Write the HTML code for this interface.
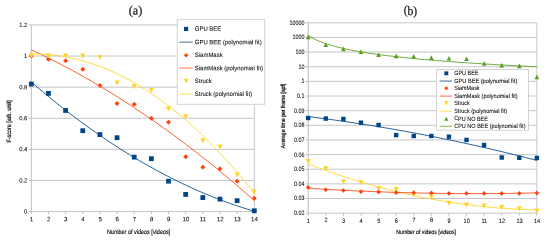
<!DOCTYPE html>
<html><head><meta charset="utf-8"><title>Figure</title>
<style>html,body{margin:0;padding:0;background:#fff}body{width:550px;height:240px;overflow:hidden}</style></head>
<body>
<svg width="550" height="240" viewBox="0 0 550 240" style="display:block">
<rect width="550" height="240" fill="#fff"/>
<text x="128.7" y="14.5" transform="rotate(0.03 128.7 14.5)" font-family="'Liberation Serif',serif" font-size="12.7" textLength="13.5" lengthAdjust="spacingAndGlyphs" fill="#111" stroke="#111" stroke-width="0.2">(a)</text>
<text x="403.7" y="14.5" transform="rotate(0.03 403.7 14.5)" font-family="'Liberation Serif',serif" font-size="12.7" textLength="13.5" lengthAdjust="spacingAndGlyphs" fill="#111" stroke="#111" stroke-width="0.2">(b)</text>
<line x1="31.3" x2="254.3" y1="211.55" y2="211.55" stroke="#c6c6c6" stroke-width="1"/>
<line x1="28.8" x2="31.3" y1="211.55" y2="211.55" stroke="#bdbdbd" stroke-width="1"/>
<text x="24.07" y="213.55" transform="rotate(0.03 24.07 213.55)" font-family="'Liberation Sans',sans-serif" font-size="6.2" fill="#000" stroke="#000" stroke-width="0.05" textLength="3.23" lengthAdjust="spacingAndGlyphs">0</text>
<line x1="31.3" x2="254.3" y1="180.45" y2="180.45" stroke="#c6c6c6" stroke-width="1"/>
<line x1="28.8" x2="31.3" y1="180.45" y2="180.45" stroke="#bdbdbd" stroke-width="1"/>
<text x="19.24" y="182.45" transform="rotate(0.03 19.24 182.45)" font-family="'Liberation Sans',sans-serif" font-size="6.2" fill="#000" stroke="#000" stroke-width="0.05" textLength="8.06" lengthAdjust="spacingAndGlyphs">0.2</text>
<line x1="31.3" x2="254.3" y1="149.35" y2="149.35" stroke="#c6c6c6" stroke-width="1"/>
<line x1="28.8" x2="31.3" y1="149.35" y2="149.35" stroke="#bdbdbd" stroke-width="1"/>
<text x="19.24" y="151.35" transform="rotate(0.03 19.24 151.35)" font-family="'Liberation Sans',sans-serif" font-size="6.2" fill="#000" stroke="#000" stroke-width="0.05" textLength="8.06" lengthAdjust="spacingAndGlyphs">0.4</text>
<line x1="31.3" x2="254.3" y1="118.25" y2="118.25" stroke="#c6c6c6" stroke-width="1"/>
<line x1="28.8" x2="31.3" y1="118.25" y2="118.25" stroke="#bdbdbd" stroke-width="1"/>
<text x="19.24" y="120.25" transform="rotate(0.03 19.24 120.25)" font-family="'Liberation Sans',sans-serif" font-size="6.2" fill="#000" stroke="#000" stroke-width="0.05" textLength="8.06" lengthAdjust="spacingAndGlyphs">0.6</text>
<line x1="31.3" x2="254.3" y1="87.15" y2="87.15" stroke="#c6c6c6" stroke-width="1"/>
<line x1="28.8" x2="31.3" y1="87.15" y2="87.15" stroke="#bdbdbd" stroke-width="1"/>
<text x="19.24" y="89.15" transform="rotate(0.03 19.24 89.15)" font-family="'Liberation Sans',sans-serif" font-size="6.2" fill="#000" stroke="#000" stroke-width="0.05" textLength="8.06" lengthAdjust="spacingAndGlyphs">0.8</text>
<line x1="31.3" x2="254.3" y1="56.05" y2="56.05" stroke="#c6c6c6" stroke-width="1"/>
<line x1="28.8" x2="31.3" y1="56.05" y2="56.05" stroke="#bdbdbd" stroke-width="1"/>
<text x="24.07" y="58.05" transform="rotate(0.03 24.07 58.05)" font-family="'Liberation Sans',sans-serif" font-size="6.2" fill="#000" stroke="#000" stroke-width="0.05" textLength="3.23" lengthAdjust="spacingAndGlyphs">1</text>
<line x1="31.3" x2="254.3" y1="24.95" y2="24.95" stroke="#c6c6c6" stroke-width="1"/>
<line x1="28.8" x2="31.3" y1="24.95" y2="24.95" stroke="#bdbdbd" stroke-width="1"/>
<text x="19.24" y="26.95" transform="rotate(0.03 19.24 26.95)" font-family="'Liberation Sans',sans-serif" font-size="6.2" fill="#000" stroke="#000" stroke-width="0.05" textLength="8.06" lengthAdjust="spacingAndGlyphs">1.2</text>
<line x1="31.3" x2="31.3" y1="24.95" y2="211.55" stroke="#bdbdbd" stroke-width="1"/>
<line x1="254.3" x2="254.3" y1="24.95" y2="211.55" stroke="#c6c6c6" stroke-width="1"/>
<line x1="31.30" x2="31.30" y1="211.55" y2="214.05" stroke="#bdbdbd" stroke-width="1"/>
<text x="29.80" y="221.25" transform="rotate(0.03 29.80 221.25)" font-family="'Liberation Sans',sans-serif" font-size="6.3" fill="#000" stroke="#000" stroke-width="0.05" textLength="3.39" lengthAdjust="spacingAndGlyphs">1</text>
<line x1="48.45" x2="48.45" y1="211.55" y2="214.05" stroke="#bdbdbd" stroke-width="1"/>
<text x="46.96" y="221.25" transform="rotate(0.03 46.96 221.25)" font-family="'Liberation Sans',sans-serif" font-size="6.3" fill="#000" stroke="#000" stroke-width="0.05" textLength="3.39" lengthAdjust="spacingAndGlyphs">2</text>
<line x1="65.61" x2="65.61" y1="211.55" y2="214.05" stroke="#bdbdbd" stroke-width="1"/>
<text x="64.11" y="221.25" transform="rotate(0.03 64.11 221.25)" font-family="'Liberation Sans',sans-serif" font-size="6.3" fill="#000" stroke="#000" stroke-width="0.05" textLength="3.39" lengthAdjust="spacingAndGlyphs">3</text>
<line x1="82.76" x2="82.76" y1="211.55" y2="214.05" stroke="#bdbdbd" stroke-width="1"/>
<text x="81.27" y="221.25" transform="rotate(0.03 81.27 221.25)" font-family="'Liberation Sans',sans-serif" font-size="6.3" fill="#000" stroke="#000" stroke-width="0.05" textLength="3.39" lengthAdjust="spacingAndGlyphs">4</text>
<line x1="99.92" x2="99.92" y1="211.55" y2="214.05" stroke="#bdbdbd" stroke-width="1"/>
<text x="98.42" y="221.25" transform="rotate(0.03 98.42 221.25)" font-family="'Liberation Sans',sans-serif" font-size="6.3" fill="#000" stroke="#000" stroke-width="0.05" textLength="3.39" lengthAdjust="spacingAndGlyphs">5</text>
<line x1="117.07" x2="117.07" y1="211.55" y2="214.05" stroke="#bdbdbd" stroke-width="1"/>
<text x="115.57" y="221.25" transform="rotate(0.03 115.57 221.25)" font-family="'Liberation Sans',sans-serif" font-size="6.3" fill="#000" stroke="#000" stroke-width="0.05" textLength="3.39" lengthAdjust="spacingAndGlyphs">6</text>
<line x1="134.22" x2="134.22" y1="211.55" y2="214.05" stroke="#bdbdbd" stroke-width="1"/>
<text x="132.73" y="221.25" transform="rotate(0.03 132.73 221.25)" font-family="'Liberation Sans',sans-serif" font-size="6.3" fill="#000" stroke="#000" stroke-width="0.05" textLength="3.39" lengthAdjust="spacingAndGlyphs">7</text>
<line x1="151.38" x2="151.38" y1="211.55" y2="214.05" stroke="#bdbdbd" stroke-width="1"/>
<text x="149.88" y="221.25" transform="rotate(0.03 149.88 221.25)" font-family="'Liberation Sans',sans-serif" font-size="6.3" fill="#000" stroke="#000" stroke-width="0.05" textLength="3.39" lengthAdjust="spacingAndGlyphs">8</text>
<line x1="168.53" x2="168.53" y1="211.55" y2="214.05" stroke="#bdbdbd" stroke-width="1"/>
<text x="167.03" y="221.25" transform="rotate(0.03 167.03 221.25)" font-family="'Liberation Sans',sans-serif" font-size="6.3" fill="#000" stroke="#000" stroke-width="0.05" textLength="3.39" lengthAdjust="spacingAndGlyphs">9</text>
<line x1="185.68" x2="185.68" y1="211.55" y2="214.05" stroke="#bdbdbd" stroke-width="1"/>
<text x="182.49" y="221.25" transform="rotate(0.03 182.49 221.25)" font-family="'Liberation Sans',sans-serif" font-size="6.3" fill="#000" stroke="#000" stroke-width="0.05" textLength="6.79" lengthAdjust="spacingAndGlyphs">10</text>
<line x1="202.84" x2="202.84" y1="211.55" y2="214.05" stroke="#bdbdbd" stroke-width="1"/>
<text x="199.87" y="221.25" transform="rotate(0.03 199.87 221.25)" font-family="'Liberation Sans',sans-serif" font-size="6.3" fill="#000" stroke="#000" stroke-width="0.05" textLength="6.33" lengthAdjust="spacingAndGlyphs">11</text>
<line x1="219.99" x2="219.99" y1="211.55" y2="214.05" stroke="#bdbdbd" stroke-width="1"/>
<text x="216.80" y="221.25" transform="rotate(0.03 216.80 221.25)" font-family="'Liberation Sans',sans-serif" font-size="6.3" fill="#000" stroke="#000" stroke-width="0.05" textLength="6.79" lengthAdjust="spacingAndGlyphs">12</text>
<line x1="237.15" x2="237.15" y1="211.55" y2="214.05" stroke="#bdbdbd" stroke-width="1"/>
<text x="233.95" y="221.25" transform="rotate(0.03 233.95 221.25)" font-family="'Liberation Sans',sans-serif" font-size="6.3" fill="#000" stroke="#000" stroke-width="0.05" textLength="6.79" lengthAdjust="spacingAndGlyphs">13</text>
<line x1="254.30" x2="254.30" y1="211.55" y2="214.05" stroke="#bdbdbd" stroke-width="1"/>
<text x="251.11" y="221.25" transform="rotate(0.03 251.11 221.25)" font-family="'Liberation Sans',sans-serif" font-size="6.3" fill="#000" stroke="#000" stroke-width="0.05" textLength="6.79" lengthAdjust="spacingAndGlyphs">14</text>
<text x="106.90" y="233.60" transform="rotate(0.03 106.90 233.60)" font-family="'Liberation Sans',sans-serif" font-size="6.3" fill="#000" stroke="#000" stroke-width="0.14" textLength="63.36" lengthAdjust="spacingAndGlyphs">Number of videos [videos]</text>
<text transform="translate(10.60,121.45) rotate(-89.97)" x="-21.12" y="0" font-family="'Liberation Sans',sans-serif" font-size="6.3" fill="#000" stroke="#000" stroke-width="0.18" textLength="42.24" lengthAdjust="spacingAndGlyphs">F-score [arb. unit]</text>
<polyline points="31.30,81.99 35.08,85.24 38.86,88.46 42.64,91.64 46.42,94.79 50.20,97.90 53.98,100.97 57.76,104.01 61.54,107.00 65.32,109.97 69.10,112.89 72.88,115.78 76.66,118.63 80.44,121.45 84.22,124.23 87.99,126.97 91.77,129.67 95.55,132.34 99.33,134.97 103.11,137.57 106.89,140.13 110.67,142.65 114.45,145.13 118.23,147.58 122.01,149.99 125.79,152.37 129.57,154.71 133.35,157.01 137.13,159.27 140.91,161.50 144.69,163.69 148.47,165.85 152.25,167.97 156.03,170.05 159.81,172.09 163.59,174.10 167.37,176.07 171.15,178.00 174.93,179.90 178.71,181.76 182.49,183.59 186.27,185.37 190.05,187.13 193.83,188.84 197.61,190.52 201.38,192.16 205.16,193.76 208.94,195.33 212.72,196.86 216.50,198.35 220.28,199.81 224.06,201.23 227.84,202.61 231.62,203.96 235.40,205.27 239.18,206.55 242.96,207.78 246.74,208.98 250.52,210.15 254.30,211.27" fill="none" stroke="#004586" stroke-width="0.85"/>
<polyline points="31.30,49.79 35.08,51.56 38.86,53.36 42.64,55.19 46.42,57.04 50.20,58.92 53.98,60.83 57.76,62.77 61.54,64.73 65.32,66.72 69.10,68.73 72.88,70.78 76.66,72.85 80.44,74.94 84.22,77.07 87.99,79.22 91.77,81.40 95.55,83.60 99.33,85.83 103.11,88.09 106.89,90.38 110.67,92.69 114.45,95.03 118.23,97.40 122.01,99.79 125.79,102.21 129.57,104.66 133.35,107.13 137.13,109.64 140.91,112.16 144.69,114.72 148.47,117.30 152.25,119.91 156.03,122.55 159.81,125.21 163.59,127.90 167.37,130.62 171.15,133.36 174.93,136.13 178.71,138.93 182.49,141.76 186.27,144.61 190.05,147.49 193.83,150.39 197.61,153.33 201.38,156.29 205.16,159.27 208.94,162.29 212.72,165.33 216.50,168.39 220.28,171.49 224.06,174.61 227.84,177.76 231.62,180.93 235.40,184.14 239.18,187.37 242.96,190.62 246.74,193.91 250.52,197.22 254.30,200.55" fill="none" stroke="#ff420e" stroke-width="0.85"/>
<polyline points="31.30,53.96 35.08,53.95 38.86,54.01 42.64,54.16 46.42,54.40 50.20,54.71 53.98,55.10 57.76,55.58 61.54,56.14 65.32,56.78 69.10,57.50 72.88,58.30 76.66,59.19 80.44,60.15 84.22,61.20 87.99,62.33 91.77,63.54 95.55,64.84 99.33,66.21 103.11,67.67 106.89,69.21 110.67,70.83 114.45,72.53 118.23,74.32 122.01,76.18 125.79,78.13 129.57,80.16 133.35,82.27 137.13,84.47 140.91,86.74 144.69,89.10 148.47,91.54 152.25,94.06 156.03,96.66 159.81,99.34 163.59,102.11 167.37,104.95 171.15,107.88 174.93,110.89 178.71,113.98 182.49,117.16 186.27,120.41 190.05,123.75 193.83,127.17 197.61,130.67 201.38,134.25 205.16,137.92 208.94,141.67 212.72,145.49 216.50,149.40 220.28,153.39 224.06,157.47 227.84,161.62 231.62,165.86 235.40,170.18 239.18,174.58 242.96,179.06 246.74,183.62 250.52,188.27 254.30,193.00" fill="none" stroke="#ffd320" stroke-width="0.85"/>
<rect x="28.90" y="81.64" width="4.8" height="4.8" fill="#004586"/>
<rect x="46.05" y="90.97" width="4.8" height="4.8" fill="#004586"/>
<rect x="63.21" y="108.07" width="4.8" height="4.8" fill="#004586"/>
<rect x="80.36" y="128.29" width="4.8" height="4.8" fill="#004586"/>
<rect x="97.52" y="132.18" width="4.8" height="4.8" fill="#004586"/>
<rect x="114.67" y="135.29" width="4.8" height="4.8" fill="#004586"/>
<rect x="131.82" y="154.72" width="4.8" height="4.8" fill="#004586"/>
<rect x="148.98" y="156.28" width="4.8" height="4.8" fill="#004586"/>
<rect x="166.13" y="178.83" width="4.8" height="4.8" fill="#004586"/>
<rect x="183.28" y="192.04" width="4.8" height="4.8" fill="#004586"/>
<rect x="200.44" y="195.16" width="4.8" height="4.8" fill="#004586"/>
<rect x="217.59" y="196.71" width="4.8" height="4.8" fill="#004586"/>
<rect x="234.75" y="198.27" width="4.8" height="4.8" fill="#004586"/>
<rect x="251.90" y="208.37" width="4.8" height="4.8" fill="#004586"/>
<path d="M31.30 53.55L33.80 56.05L31.30 58.55L28.80 56.05Z" fill="#ff420e"/>
<path d="M48.45 56.66L50.95 59.16L48.45 61.66L45.95 59.16Z" fill="#ff420e"/>
<path d="M65.61 58.22L68.11 60.72L65.61 63.22L63.11 60.72Z" fill="#ff420e"/>
<path d="M82.76 66.77L85.26 69.27L82.76 71.77L80.26 69.27Z" fill="#ff420e"/>
<path d="M99.92 83.09L102.42 85.59L99.92 88.09L97.42 85.59Z" fill="#ff420e"/>
<path d="M117.07 100.98L119.57 103.48L117.07 105.98L114.57 103.48Z" fill="#ff420e"/>
<path d="M134.22 101.76L136.72 104.26L134.22 106.76L131.72 104.26Z" fill="#ff420e"/>
<path d="M151.38 115.75L153.88 118.25L151.38 120.75L148.88 118.25Z" fill="#ff420e"/>
<path d="M168.53 119.64L171.03 122.14L168.53 124.64L166.03 122.14Z" fill="#ff420e"/>
<path d="M185.68 154.31L188.18 156.81L185.68 159.31L183.18 156.81Z" fill="#ff420e"/>
<path d="M202.84 164.73L205.34 167.23L202.84 169.73L200.34 167.23Z" fill="#ff420e"/>
<path d="M219.99 166.29L222.49 168.79L219.99 171.29L217.49 168.79Z" fill="#ff420e"/>
<path d="M237.15 178.73L239.65 181.23L237.15 183.73L234.65 181.23Z" fill="#ff420e"/>
<path d="M254.30 195.83L256.80 198.33L254.30 200.83L251.80 198.33Z" fill="#ff420e"/>
<path d="M28.80 53.55L33.80 53.55L31.30 58.55Z" fill="#ffd320"/>
<path d="M45.95 53.55L50.95 53.55L48.45 58.55Z" fill="#ffd320"/>
<path d="M63.11 53.55L68.11 53.55L65.61 58.55Z" fill="#ffd320"/>
<path d="M80.26 53.55L85.26 53.55L82.76 58.55Z" fill="#ffd320"/>
<path d="M97.42 55.10L102.42 55.10L99.92 60.10Z" fill="#ffd320"/>
<path d="M114.57 80.45L119.57 80.45L117.07 85.45Z" fill="#ffd320"/>
<path d="M131.72 84.18L136.72 84.18L134.22 89.18Z" fill="#ffd320"/>
<path d="M148.88 87.76L153.88 87.76L151.38 92.76Z" fill="#ffd320"/>
<path d="M166.03 106.42L171.03 106.42L168.53 111.42Z" fill="#ffd320"/>
<path d="M183.18 114.20L188.18 114.20L185.68 119.20Z" fill="#ffd320"/>
<path d="M200.34 138.30L205.34 138.30L202.84 143.30Z" fill="#ffd320"/>
<path d="M217.49 144.52L222.49 144.52L219.99 149.52Z" fill="#ffd320"/>
<path d="M234.65 172.51L239.65 172.51L237.15 177.51Z" fill="#ffd320"/>
<path d="M251.80 189.61L256.80 189.61L254.30 194.61Z" fill="#ffd320"/>
<rect x="177.2" y="19.7" width="87.5" height="84.6" fill="#fff" stroke="#cdcdcd" stroke-width="0.9"/>
<rect x="184.00" y="26.85" width="4.2" height="4.2" fill="#004586"/>
<text x="194.80" y="30.85" transform="rotate(0.03 194.80 30.85)" font-family="'Liberation Sans',sans-serif" font-size="6.3" fill="#000" stroke="#000" stroke-width="0.05" textLength="26.50" lengthAdjust="spacingAndGlyphs">GPU BEE</text>
<line x1="179.2" x2="192.8" y1="42.15" y2="42.15" stroke="#004586" stroke-width="1.2" stroke-opacity="0.62"/>
<text x="194.80" y="44.20" transform="rotate(0.03 194.80 44.20)" font-family="'Liberation Sans',sans-serif" font-size="6.3" fill="#000" stroke="#000" stroke-width="0.05" textLength="66.91" lengthAdjust="spacingAndGlyphs">GPU BEE (polynomial fit)</text>
<path d="M186.10 52.90L188.35 55.15L186.10 57.40L183.85 55.15Z" fill="#ff420e"/>
<text x="194.80" y="57.05" transform="rotate(0.03 194.80 57.05)" font-family="'Liberation Sans',sans-serif" font-size="6.3" fill="#000" stroke="#000" stroke-width="0.05" textLength="27.82" lengthAdjust="spacingAndGlyphs">SiamMask</text>
<line x1="179.2" x2="192.8" y1="68.10" y2="68.10" stroke="#ff420e" stroke-width="1.2" stroke-opacity="0.62"/>
<text x="194.80" y="70.15" transform="rotate(0.03 194.80 70.15)" font-family="'Liberation Sans',sans-serif" font-size="6.3" fill="#000" stroke="#000" stroke-width="0.05" textLength="68.23" lengthAdjust="spacingAndGlyphs">SiamMask (polynomial fit)</text>
<path d="M183.75 78.80L188.45 78.80L186.10 83.50Z" fill="#ffd320"/>
<text x="194.80" y="83.05" transform="rotate(0.03 194.80 83.05)" font-family="'Liberation Sans',sans-serif" font-size="6.3" fill="#000" stroke="#000" stroke-width="0.05" textLength="16.89" lengthAdjust="spacingAndGlyphs">Struck</text>
<line x1="179.2" x2="192.8" y1="94.05" y2="94.05" stroke="#ffd320" stroke-width="1.2" stroke-opacity="0.62"/>
<text x="194.80" y="96.10" transform="rotate(0.03 194.80 96.10)" font-family="'Liberation Sans',sans-serif" font-size="6.3" fill="#000" stroke="#000" stroke-width="0.05" textLength="57.30" lengthAdjust="spacingAndGlyphs">Struck (polynomial fit)</text>
<line x1="308.2" x2="536.9" y1="213.15" y2="213.15" stroke="#c6c6c6" stroke-width="1"/>
<line x1="305.7" x2="308.2" y1="213.15" y2="213.15" stroke="#bdbdbd" stroke-width="1"/>
<text x="293.89" y="215.10" transform="rotate(0.03 293.89 215.10)" font-family="'Liberation Sans',sans-serif" font-size="6.4" fill="#000" stroke="#000" stroke-width="0.05" textLength="10.51" lengthAdjust="spacingAndGlyphs">0.02</text>
<line x1="308.2" x2="536.9" y1="198.51" y2="198.51" stroke="#c6c6c6" stroke-width="1"/>
<line x1="305.7" x2="308.2" y1="198.51" y2="198.51" stroke="#bdbdbd" stroke-width="1"/>
<text x="293.89" y="200.46" transform="rotate(0.03 293.89 200.46)" font-family="'Liberation Sans',sans-serif" font-size="6.4" fill="#000" stroke="#000" stroke-width="0.05" textLength="10.51" lengthAdjust="spacingAndGlyphs">0.03</text>
<line x1="308.2" x2="536.9" y1="183.87" y2="183.87" stroke="#c6c6c6" stroke-width="1"/>
<line x1="305.7" x2="308.2" y1="183.87" y2="183.87" stroke="#bdbdbd" stroke-width="1"/>
<text x="293.89" y="185.82" transform="rotate(0.03 293.89 185.82)" font-family="'Liberation Sans',sans-serif" font-size="6.4" fill="#000" stroke="#000" stroke-width="0.05" textLength="10.51" lengthAdjust="spacingAndGlyphs">0.04</text>
<line x1="308.2" x2="536.9" y1="169.22" y2="169.22" stroke="#c6c6c6" stroke-width="1"/>
<line x1="305.7" x2="308.2" y1="169.22" y2="169.22" stroke="#bdbdbd" stroke-width="1"/>
<text x="293.89" y="171.17" transform="rotate(0.03 293.89 171.17)" font-family="'Liberation Sans',sans-serif" font-size="6.4" fill="#000" stroke="#000" stroke-width="0.05" textLength="10.51" lengthAdjust="spacingAndGlyphs">0.05</text>
<line x1="308.2" x2="536.9" y1="154.58" y2="154.58" stroke="#c6c6c6" stroke-width="1"/>
<line x1="305.7" x2="308.2" y1="154.58" y2="154.58" stroke="#bdbdbd" stroke-width="1"/>
<text x="293.89" y="156.53" transform="rotate(0.03 293.89 156.53)" font-family="'Liberation Sans',sans-serif" font-size="6.4" fill="#000" stroke="#000" stroke-width="0.05" textLength="10.51" lengthAdjust="spacingAndGlyphs">0.06</text>
<line x1="308.2" x2="536.9" y1="139.94" y2="139.94" stroke="#c6c6c6" stroke-width="1"/>
<line x1="305.7" x2="308.2" y1="139.94" y2="139.94" stroke="#bdbdbd" stroke-width="1"/>
<text x="293.89" y="141.89" transform="rotate(0.03 293.89 141.89)" font-family="'Liberation Sans',sans-serif" font-size="6.4" fill="#000" stroke="#000" stroke-width="0.05" textLength="10.51" lengthAdjust="spacingAndGlyphs">0.07</text>
<line x1="308.2" x2="536.9" y1="125.30" y2="125.30" stroke="#c6c6c6" stroke-width="1"/>
<line x1="305.7" x2="308.2" y1="125.30" y2="125.30" stroke="#bdbdbd" stroke-width="1"/>
<text x="293.89" y="127.25" transform="rotate(0.03 293.89 127.25)" font-family="'Liberation Sans',sans-serif" font-size="6.4" fill="#000" stroke="#000" stroke-width="0.05" textLength="10.51" lengthAdjust="spacingAndGlyphs">0.08</text>
<line x1="308.2" x2="536.9" y1="110.65" y2="110.65" stroke="#c6c6c6" stroke-width="1"/>
<line x1="305.7" x2="308.2" y1="110.65" y2="110.65" stroke="#bdbdbd" stroke-width="1"/>
<text x="293.89" y="112.60" transform="rotate(0.03 293.89 112.60)" font-family="'Liberation Sans',sans-serif" font-size="6.4" fill="#000" stroke="#000" stroke-width="0.05" textLength="10.51" lengthAdjust="spacingAndGlyphs">0.09</text>
<line x1="308.2" x2="536.9" y1="96.01" y2="96.01" stroke="#c6c6c6" stroke-width="1"/>
<line x1="305.7" x2="308.2" y1="96.01" y2="96.01" stroke="#bdbdbd" stroke-width="1"/>
<text x="296.89" y="97.96" transform="rotate(0.03 296.89 97.96)" font-family="'Liberation Sans',sans-serif" font-size="6.4" fill="#000" stroke="#000" stroke-width="0.05" textLength="7.51" lengthAdjust="spacingAndGlyphs">0.1</text>
<line x1="308.2" x2="536.9" y1="81.37" y2="81.37" stroke="#c6c6c6" stroke-width="1"/>
<line x1="305.7" x2="308.2" y1="81.37" y2="81.37" stroke="#bdbdbd" stroke-width="1"/>
<text x="301.40" y="83.32" transform="rotate(0.03 301.40 83.32)" font-family="'Liberation Sans',sans-serif" font-size="6.4" fill="#000" stroke="#000" stroke-width="0.05" textLength="3.00" lengthAdjust="spacingAndGlyphs">1</text>
<line x1="308.2" x2="536.9" y1="66.73" y2="66.73" stroke="#c6c6c6" stroke-width="1"/>
<line x1="305.7" x2="308.2" y1="66.73" y2="66.73" stroke="#bdbdbd" stroke-width="1"/>
<text x="298.39" y="68.68" transform="rotate(0.03 298.39 68.68)" font-family="'Liberation Sans',sans-serif" font-size="6.4" fill="#000" stroke="#000" stroke-width="0.05" textLength="6.01" lengthAdjust="spacingAndGlyphs">10</text>
<line x1="308.2" x2="536.9" y1="52.08" y2="52.08" stroke="#c6c6c6" stroke-width="1"/>
<line x1="305.7" x2="308.2" y1="52.08" y2="52.08" stroke="#bdbdbd" stroke-width="1"/>
<text x="295.39" y="54.03" transform="rotate(0.03 295.39 54.03)" font-family="'Liberation Sans',sans-serif" font-size="6.4" fill="#000" stroke="#000" stroke-width="0.05" textLength="9.01" lengthAdjust="spacingAndGlyphs">100</text>
<line x1="308.2" x2="536.9" y1="37.44" y2="37.44" stroke="#c6c6c6" stroke-width="1"/>
<line x1="305.7" x2="308.2" y1="37.44" y2="37.44" stroke="#bdbdbd" stroke-width="1"/>
<text x="292.39" y="39.39" transform="rotate(0.03 292.39 39.39)" font-family="'Liberation Sans',sans-serif" font-size="6.4" fill="#000" stroke="#000" stroke-width="0.05" textLength="12.01" lengthAdjust="spacingAndGlyphs">1000</text>
<line x1="308.2" x2="536.9" y1="22.80" y2="22.80" stroke="#c6c6c6" stroke-width="1"/>
<line x1="305.7" x2="308.2" y1="22.80" y2="22.80" stroke="#bdbdbd" stroke-width="1"/>
<text x="289.38" y="24.75" transform="rotate(0.03 289.38 24.75)" font-family="'Liberation Sans',sans-serif" font-size="6.4" fill="#000" stroke="#000" stroke-width="0.05" textLength="15.02" lengthAdjust="spacingAndGlyphs">10000</text>
<line x1="308.2" x2="308.2" y1="22.8" y2="213.15" stroke="#bdbdbd" stroke-width="1"/>
<line x1="536.9" x2="536.9" y1="22.8" y2="213.15" stroke="#c6c6c6" stroke-width="1"/>
<line x1="308.20" x2="308.20" y1="213.15" y2="215.65" stroke="#bdbdbd" stroke-width="1"/>
<text x="306.84" y="222.50" transform="rotate(0.03 306.84 222.50)" font-family="'Liberation Sans',sans-serif" font-size="6.3" fill="#000" stroke="#000" stroke-width="0.05" textLength="3.11" lengthAdjust="spacingAndGlyphs">1</text>
<line x1="325.79" x2="325.79" y1="213.15" y2="215.65" stroke="#bdbdbd" stroke-width="1"/>
<text x="324.44" y="222.50" transform="rotate(0.03 324.44 222.50)" font-family="'Liberation Sans',sans-serif" font-size="6.3" fill="#000" stroke="#000" stroke-width="0.05" textLength="3.11" lengthAdjust="spacingAndGlyphs">2</text>
<line x1="343.38" x2="343.38" y1="213.15" y2="215.65" stroke="#bdbdbd" stroke-width="1"/>
<text x="342.03" y="222.50" transform="rotate(0.03 342.03 222.50)" font-family="'Liberation Sans',sans-serif" font-size="6.3" fill="#000" stroke="#000" stroke-width="0.05" textLength="3.11" lengthAdjust="spacingAndGlyphs">3</text>
<line x1="360.98" x2="360.98" y1="213.15" y2="215.65" stroke="#bdbdbd" stroke-width="1"/>
<text x="359.62" y="222.50" transform="rotate(0.03 359.62 222.50)" font-family="'Liberation Sans',sans-serif" font-size="6.3" fill="#000" stroke="#000" stroke-width="0.05" textLength="3.11" lengthAdjust="spacingAndGlyphs">4</text>
<line x1="378.57" x2="378.57" y1="213.15" y2="215.65" stroke="#bdbdbd" stroke-width="1"/>
<text x="377.21" y="222.50" transform="rotate(0.03 377.21 222.50)" font-family="'Liberation Sans',sans-serif" font-size="6.3" fill="#000" stroke="#000" stroke-width="0.05" textLength="3.11" lengthAdjust="spacingAndGlyphs">5</text>
<line x1="396.16" x2="396.16" y1="213.15" y2="215.65" stroke="#bdbdbd" stroke-width="1"/>
<text x="394.80" y="222.50" transform="rotate(0.03 394.80 222.50)" font-family="'Liberation Sans',sans-serif" font-size="6.3" fill="#000" stroke="#000" stroke-width="0.05" textLength="3.11" lengthAdjust="spacingAndGlyphs">6</text>
<line x1="413.75" x2="413.75" y1="213.15" y2="215.65" stroke="#bdbdbd" stroke-width="1"/>
<text x="412.40" y="222.50" transform="rotate(0.03 412.40 222.50)" font-family="'Liberation Sans',sans-serif" font-size="6.3" fill="#000" stroke="#000" stroke-width="0.05" textLength="3.11" lengthAdjust="spacingAndGlyphs">7</text>
<line x1="431.35" x2="431.35" y1="213.15" y2="215.65" stroke="#bdbdbd" stroke-width="1"/>
<text x="429.99" y="222.50" transform="rotate(0.03 429.99 222.50)" font-family="'Liberation Sans',sans-serif" font-size="6.3" fill="#000" stroke="#000" stroke-width="0.05" textLength="3.11" lengthAdjust="spacingAndGlyphs">8</text>
<line x1="448.94" x2="448.94" y1="213.15" y2="215.65" stroke="#bdbdbd" stroke-width="1"/>
<text x="447.58" y="222.50" transform="rotate(0.03 447.58 222.50)" font-family="'Liberation Sans',sans-serif" font-size="6.3" fill="#000" stroke="#000" stroke-width="0.05" textLength="3.11" lengthAdjust="spacingAndGlyphs">9</text>
<line x1="466.53" x2="466.53" y1="213.15" y2="215.65" stroke="#bdbdbd" stroke-width="1"/>
<text x="463.62" y="222.50" transform="rotate(0.03 463.62 222.50)" font-family="'Liberation Sans',sans-serif" font-size="6.3" fill="#000" stroke="#000" stroke-width="0.05" textLength="6.23" lengthAdjust="spacingAndGlyphs">10</text>
<line x1="484.12" x2="484.12" y1="213.15" y2="215.65" stroke="#bdbdbd" stroke-width="1"/>
<text x="481.42" y="222.50" transform="rotate(0.03 481.42 222.50)" font-family="'Liberation Sans',sans-serif" font-size="6.3" fill="#000" stroke="#000" stroke-width="0.05" textLength="5.81" lengthAdjust="spacingAndGlyphs">11</text>
<line x1="501.72" x2="501.72" y1="213.15" y2="215.65" stroke="#bdbdbd" stroke-width="1"/>
<text x="498.80" y="222.50" transform="rotate(0.03 498.80 222.50)" font-family="'Liberation Sans',sans-serif" font-size="6.3" fill="#000" stroke="#000" stroke-width="0.05" textLength="6.23" lengthAdjust="spacingAndGlyphs">12</text>
<line x1="519.31" x2="519.31" y1="213.15" y2="215.65" stroke="#bdbdbd" stroke-width="1"/>
<text x="516.39" y="222.50" transform="rotate(0.03 516.39 222.50)" font-family="'Liberation Sans',sans-serif" font-size="6.3" fill="#000" stroke="#000" stroke-width="0.05" textLength="6.23" lengthAdjust="spacingAndGlyphs">13</text>
<line x1="536.90" x2="536.90" y1="213.15" y2="215.65" stroke="#bdbdbd" stroke-width="1"/>
<text x="533.99" y="222.50" transform="rotate(0.03 533.99 222.50)" font-family="'Liberation Sans',sans-serif" font-size="6.3" fill="#000" stroke="#000" stroke-width="0.05" textLength="6.23" lengthAdjust="spacingAndGlyphs">14</text>
<text x="396.30" y="233.80" transform="rotate(0.03 396.30 233.80)" font-family="'Liberation Sans',sans-serif" font-size="6.2" fill="#000" stroke="#000" stroke-width="0.14" textLength="59.66" lengthAdjust="spacingAndGlyphs">Number of videos [videos]</text>
<text transform="translate(285.10,116.10) rotate(-89.97)" x="-32.38" y="0" font-family="'Liberation Sans',sans-serif" font-size="5.9" fill="#000" stroke="#000" stroke-width="0.18" textLength="64.76" lengthAdjust="spacingAndGlyphs">Average time per frame [spf]</text>
<polyline points="308.20,116.60 312.08,117.08 315.95,117.57 319.83,118.07 323.71,118.57 327.58,119.09 331.46,119.62 335.33,120.15 339.21,120.69 343.09,121.25 346.96,121.81 350.84,122.38 354.72,122.96 358.59,123.55 362.47,124.15 366.34,124.75 370.22,125.37 374.10,125.99 377.97,126.63 381.85,127.27 385.73,127.92 389.60,128.59 393.48,129.26 397.35,129.94 401.23,130.62 405.11,131.32 408.98,132.03 412.86,132.74 416.74,133.47 420.61,134.20 424.49,134.95 428.36,135.70 432.24,136.46 436.12,137.23 439.99,138.01 443.87,138.80 447.75,139.59 451.62,140.40 455.50,141.22 459.37,142.04 463.25,142.87 467.13,143.72 471.00,144.57 474.88,145.43 478.76,146.30 482.63,147.18 486.51,148.07 490.38,148.96 494.26,149.87 498.14,150.78 502.01,151.71 505.89,152.64 509.77,153.58 513.64,154.53 517.52,155.50 521.39,156.46 525.27,157.44 529.15,158.43 533.02,159.43 536.90,160.43" fill="none" stroke="#004586" stroke-width="0.85"/>
<polyline points="308.20,163.94 312.08,165.42 315.95,166.87 319.83,168.29 323.71,169.69 327.58,171.07 331.46,172.42 335.33,173.75 339.21,175.06 343.09,176.34 346.96,177.60 350.84,178.83 354.72,180.04 358.59,181.23 362.47,182.39 366.34,183.52 370.22,184.64 374.10,185.73 377.97,186.79 381.85,187.83 385.73,188.85 389.60,189.84 393.48,190.81 397.35,191.76 401.23,192.68 405.11,193.58 408.98,194.45 412.86,195.30 416.74,196.12 420.61,196.93 424.49,197.70 428.36,198.46 432.24,199.19 436.12,199.89 439.99,200.57 443.87,201.23 447.75,201.86 451.62,202.47 455.50,203.06 459.37,203.62 463.25,204.15 467.13,204.67 471.00,205.16 474.88,205.62 478.76,206.06 482.63,206.48 486.51,206.87 490.38,207.24 494.26,207.59 498.14,207.91 502.01,208.20 505.89,208.48 509.77,208.73 513.64,208.95 517.52,209.15 521.39,209.33 525.27,209.48 529.15,209.61 533.02,209.71 536.90,209.80" fill="none" stroke="#ffd320" stroke-width="0.85"/>
<polyline points="308.20,188.20 312.08,188.45 315.95,188.69 319.83,188.93 323.71,189.16 327.58,189.38 331.46,189.60 335.33,189.82 339.21,190.03 343.09,190.23 346.96,190.42 350.84,190.61 354.72,190.80 358.59,190.98 362.47,191.15 366.34,191.32 370.22,191.48 374.10,191.63 377.97,191.78 381.85,191.93 385.73,192.06 389.60,192.20 393.48,192.32 397.35,192.44 401.23,192.56 405.11,192.66 408.98,192.77 412.86,192.86 416.74,192.95 420.61,193.04 424.49,193.12 428.36,193.19 432.24,193.26 436.12,193.32 439.99,193.37 443.87,193.42 447.75,193.47 451.62,193.51 455.50,193.54 459.37,193.56 463.25,193.58 467.13,193.60 471.00,193.61 474.88,193.61 478.76,193.61 482.63,193.60 486.51,193.58 490.38,193.56 494.26,193.53 498.14,193.50 502.01,193.46 505.89,193.42 509.77,193.37 513.64,193.31 517.52,193.25 521.39,193.18 525.27,193.11 529.15,193.03 533.02,192.94 536.90,192.85" fill="none" stroke="#ff420e" stroke-width="0.85"/>
<polyline points="308.20,35.41 312.08,37.77 315.95,39.75 319.83,41.44 323.71,42.92 327.58,44.24 331.46,45.42 335.33,46.50 339.21,47.49 343.09,48.40 346.96,49.25 350.84,50.04 354.72,50.78 358.59,51.48 362.47,52.14 366.34,52.76 370.22,53.36 374.10,53.92 377.97,54.46 381.85,54.98 385.73,55.47 389.60,55.95 393.48,56.40 397.35,56.84 401.23,57.27 405.11,57.68 408.98,58.07 412.86,58.46 416.74,58.83 420.61,59.19 424.49,59.54 428.36,59.88 432.24,60.21 436.12,60.53 439.99,60.84 443.87,61.14 447.75,61.44 451.62,61.73 455.50,62.01 459.37,62.29 463.25,62.56 467.13,62.82 471.00,63.08 474.88,63.33 478.76,63.58 482.63,63.82 486.51,64.06 490.38,64.30 494.26,64.52 498.14,64.75 502.01,64.97 505.89,65.18 509.77,65.40 513.64,65.60 517.52,65.81 521.39,66.01 525.27,66.21 529.15,66.40 533.02,66.60 536.90,66.78" fill="none" stroke="#579d1c" stroke-width="0.85"/>
<rect x="306.00" y="115.78" width="4.4" height="4.4" fill="#004586"/>
<rect x="323.59" y="116.36" width="4.4" height="4.4" fill="#004586"/>
<rect x="341.18" y="116.80" width="4.4" height="4.4" fill="#004586"/>
<rect x="358.78" y="120.46" width="4.4" height="4.4" fill="#004586"/>
<rect x="376.37" y="122.80" width="4.4" height="4.4" fill="#004586"/>
<rect x="393.96" y="132.91" width="4.4" height="4.4" fill="#004586"/>
<rect x="411.55" y="133.79" width="4.4" height="4.4" fill="#004586"/>
<rect x="429.15" y="133.79" width="4.4" height="4.4" fill="#004586"/>
<rect x="446.74" y="134.52" width="4.4" height="4.4" fill="#004586"/>
<rect x="464.33" y="137.74" width="4.4" height="4.4" fill="#004586"/>
<rect x="481.92" y="142.86" width="4.4" height="4.4" fill="#004586"/>
<rect x="499.52" y="155.31" width="4.4" height="4.4" fill="#004586"/>
<rect x="517.11" y="155.60" width="4.4" height="4.4" fill="#004586"/>
<rect x="534.70" y="155.75" width="4.4" height="4.4" fill="#004586"/>
<path d="M305.70 158.96L310.70 158.96L308.20 163.96Z" fill="#ffd320"/>
<path d="M323.29 166.28L328.29 166.28L325.79 171.28Z" fill="#ffd320"/>
<path d="M340.88 179.46L345.88 179.46L343.38 184.46Z" fill="#ffd320"/>
<path d="M358.48 180.19L363.48 180.19L360.98 185.19Z" fill="#ffd320"/>
<path d="M376.07 186.20L381.07 186.20L378.57 191.20Z" fill="#ffd320"/>
<path d="M393.66 186.93L398.66 186.93L396.16 191.93Z" fill="#ffd320"/>
<path d="M411.25 191.91L416.25 191.91L413.75 196.91Z" fill="#ffd320"/>
<path d="M428.85 194.54L433.85 194.54L431.35 199.54Z" fill="#ffd320"/>
<path d="M446.44 200.69L451.44 200.69L448.94 205.69Z" fill="#ffd320"/>
<path d="M464.03 202.60L469.03 202.60L466.53 207.60Z" fill="#ffd320"/>
<path d="M481.62 203.62L486.62 203.62L484.12 208.62Z" fill="#ffd320"/>
<path d="M499.22 204.79L504.22 204.79L501.72 209.79Z" fill="#ffd320"/>
<path d="M516.81 206.26L521.81 206.26L519.31 211.26Z" fill="#ffd320"/>
<path d="M534.40 208.75L539.40 208.75L536.90 213.75Z" fill="#ffd320"/>
<path d="M308.20 185.03L310.55 187.38L308.20 189.73L305.85 187.38Z" fill="#ff420e"/>
<path d="M325.79 187.37L328.14 189.72L325.79 192.07L323.44 189.72Z" fill="#ff420e"/>
<path d="M343.38 188.10L345.73 190.45L343.38 192.80L341.03 190.45Z" fill="#ff420e"/>
<path d="M360.98 189.28L363.33 191.63L360.98 193.98L358.63 191.63Z" fill="#ff420e"/>
<path d="M378.57 189.57L380.92 191.92L378.57 194.27L376.22 191.92Z" fill="#ff420e"/>
<path d="M396.16 190.30L398.51 192.65L396.16 195.00L393.81 192.65Z" fill="#ff420e"/>
<path d="M413.75 190.30L416.10 192.65L413.75 195.00L411.40 192.65Z" fill="#ff420e"/>
<path d="M431.35 190.59L433.70 192.94L431.35 195.29L429.00 192.94Z" fill="#ff420e"/>
<path d="M448.94 191.03L451.29 193.38L448.94 195.73L446.59 193.38Z" fill="#ff420e"/>
<path d="M466.53 191.03L468.88 193.38L466.53 195.73L464.18 193.38Z" fill="#ff420e"/>
<path d="M484.12 191.03L486.47 193.38L484.12 195.73L481.77 193.38Z" fill="#ff420e"/>
<path d="M501.72 191.03L504.07 193.38L501.72 195.73L499.37 193.38Z" fill="#ff420e"/>
<path d="M519.31 191.03L521.66 193.38L519.31 195.73L516.96 193.38Z" fill="#ff420e"/>
<path d="M536.90 190.74L539.25 193.09L536.90 195.44L534.55 193.09Z" fill="#ff420e"/>
<path d="M305.90 39.14L310.50 39.14L308.20 34.54Z" fill="#579d1c"/>
<path d="M323.49 46.99L328.09 46.99L325.79 42.39Z" fill="#579d1c"/>
<path d="M341.08 51.20L345.68 51.20L343.38 46.60Z" fill="#579d1c"/>
<path d="M358.68 54.07L363.28 54.07L360.98 49.47Z" fill="#579d1c"/>
<path d="M376.27 57.12L380.87 57.12L378.57 52.52Z" fill="#579d1c"/>
<path d="M393.86 58.19L398.46 58.19L396.16 53.59Z" fill="#579d1c"/>
<path d="M411.45 58.54L416.05 58.54L413.75 53.94Z" fill="#579d1c"/>
<path d="M429.05 59.90L433.65 59.90L431.35 55.30Z" fill="#579d1c"/>
<path d="M446.64 60.54L451.24 60.54L448.94 55.94Z" fill="#579d1c"/>
<path d="M464.23 61.06L468.83 61.06L466.53 56.46Z" fill="#579d1c"/>
<path d="M481.82 65.65L486.42 65.65L484.12 61.05Z" fill="#579d1c"/>
<path d="M499.42 67.61L504.02 67.61L501.72 63.01Z" fill="#579d1c"/>
<path d="M517.01 68.14L521.61 68.14L519.31 63.54Z" fill="#579d1c"/>
<path d="M534.60 79.26L539.20 79.26L536.90 74.66Z" fill="#579d1c"/>
<rect x="436.6" y="69.4" width="91.8" height="60.8" fill="#fff" stroke="#cdcdcd" stroke-width="0.9"/>
<rect x="444.35" y="71.35" width="3.9" height="3.9" fill="#004586"/>
<text x="454.20" y="75.10" transform="rotate(0.03 454.20 75.10)" font-family="'Liberation Sans',sans-serif" font-size="6.1" fill="#000" stroke="#000" stroke-width="0.05" textLength="24.20" lengthAdjust="spacingAndGlyphs">GPU BEE</text>
<line x1="439.6" x2="452" y1="81.05" y2="81.05" stroke="#004586" stroke-width="1.3" stroke-opacity="0.6"/>
<text x="454.20" y="82.85" transform="rotate(0.03 454.20 82.85)" font-family="'Liberation Sans',sans-serif" font-size="6.1" fill="#000" stroke="#000" stroke-width="0.05" textLength="63.10" lengthAdjust="spacingAndGlyphs">GPU BEE (polynomial fit)</text>
<path d="M446.30 86.25L448.35 88.30L446.30 90.35L444.25 88.30Z" fill="#ff420e"/>
<text x="454.20" y="90.10" transform="rotate(0.03 454.20 90.10)" font-family="'Liberation Sans',sans-serif" font-size="6.1" fill="#000" stroke="#000" stroke-width="0.05" textLength="25.40" lengthAdjust="spacingAndGlyphs">SiamMask</text>
<line x1="439.6" x2="452" y1="96.10" y2="96.10" stroke="#ff420e" stroke-width="1.3" stroke-opacity="0.6"/>
<text x="454.20" y="97.90" transform="rotate(0.03 454.20 97.90)" font-family="'Liberation Sans',sans-serif" font-size="6.1" fill="#000" stroke="#000" stroke-width="0.05" textLength="63.40" lengthAdjust="spacingAndGlyphs">SiamMask (polynomial fit)</text>
<path d="M444.25 101.35L448.35 101.35L446.30 105.45Z" fill="#ffd320"/>
<text x="454.20" y="105.20" transform="rotate(0.03 454.20 105.20)" font-family="'Liberation Sans',sans-serif" font-size="6.1" fill="#000" stroke="#000" stroke-width="0.05" textLength="15.60" lengthAdjust="spacingAndGlyphs">Struck</text>
<line x1="439.6" x2="452" y1="111.20" y2="111.20" stroke="#ffd320" stroke-width="1.3" stroke-opacity="0.6"/>
<text x="454.20" y="113.00" transform="rotate(0.03 454.20 113.00)" font-family="'Liberation Sans',sans-serif" font-size="6.1" fill="#000" stroke="#000" stroke-width="0.05" textLength="52.80" lengthAdjust="spacingAndGlyphs">Struck (polynomial fit)</text>
<path d="M444.25 120.75L448.35 120.75L446.30 116.65Z" fill="#579d1c"/>
<text x="454.20" y="120.50" transform="rotate(0.03 454.20 120.50)" font-family="'Liberation Sans',sans-serif" font-size="6.1" fill="#000" stroke="#000" stroke-width="0.05" textLength="33.60" lengthAdjust="spacingAndGlyphs">CPU NO BEE</text>
<line x1="439.6" x2="452" y1="126.30" y2="126.30" stroke="#579d1c" stroke-width="1.3" stroke-opacity="0.6"/>
<text x="454.20" y="128.10" transform="rotate(0.03 454.20 128.10)" font-family="'Liberation Sans',sans-serif" font-size="6.1" fill="#000" stroke="#000" stroke-width="0.05" textLength="71.30" lengthAdjust="spacingAndGlyphs">CPU NO BEE (polynomial fit)</text>
</svg>
</body></html>
